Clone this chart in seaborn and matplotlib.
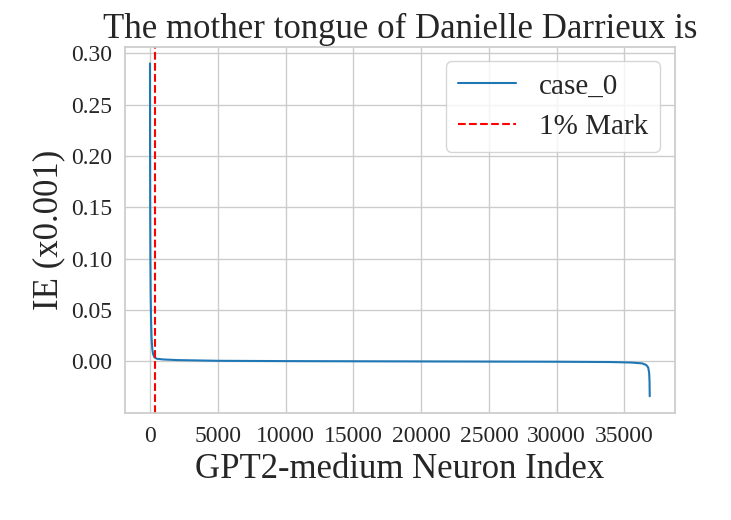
import numpy as np
import pandas as pd
import matplotlib
matplotlib.use("Agg")
import matplotlib.pyplot as plt
import seaborn as sns

# sorted indirect effects (x0.001)
neuron_idx = [0, 5, 15, 30, 50, 80, 120, 170, 230, 320, 500, 1000, 2000,
              5000, 10000, 20000, 30000, 34000, 35500, 36300, 36600,
              36750, 36820, 36850, 36863]
ie_values = [0.290, 0.220, 0.150, 0.100, 0.065, 0.040, 0.022, 0.012,
             0.007, 0.004, 0.0025, 0.0018, 0.0012, 0.0005, 0.0002,
             -0.0001, -0.0004, -0.0007, -0.0012, -0.0020, -0.0035,
             -0.0060, -0.0110, -0.0200, -0.0340]
n_neurons = 36864
mark_1pct = n_neurons // 100

df = pd.DataFrame({"idx": neuron_idx, "ie": ie_values})

sns.set_theme(style="whitegrid")
plt.rcParams['font.family'] = ['Liberation Serif', 'DejaVu Serif']

fig, ax = plt.subplots(figsize=(7.31, 5.2), dpi=100)
sns.lineplot(data=df, x="idx", y="ie", ax=ax, label="case_0", color="#1f77b4", linewidth=1.5)
ax.axvline(mark_1pct, color="red", linestyle="--", linewidth=1.5, label="1% Mark")

ax.set_title("The mother tongue of Danielle Darrieux is", fontsize=25)
ax.set_xlabel("GPT2-medium Neuron Index", fontsize=25)
ax.set_ylabel("IE (x0.001)", fontsize=25)
ax.set_xticks(np.arange(0, 35001, 5000))
ax.set_yticks(np.arange(0, 0.301, 0.05))
ax.tick_params(labelsize=17)
ax.legend(fontsize=21, loc="upper right")

plt.subplots_adjust(left=0.171, right=0.923, top=0.91, bottom=0.206)
plt.savefig("out.png", dpi=100)
